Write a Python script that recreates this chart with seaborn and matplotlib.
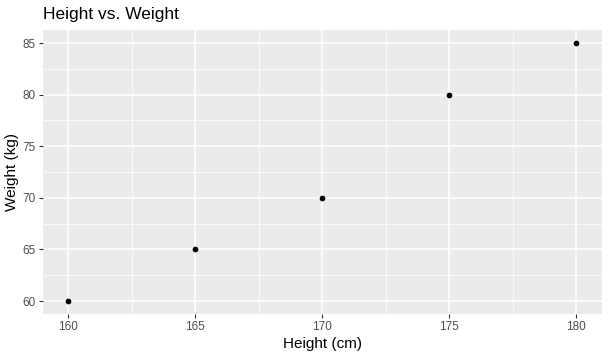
import matplotlib
matplotlib.use("Agg")
import matplotlib.pyplot as plt
import seaborn as sns
import pandas as pd
import numpy as np

# Data
height = [160, 165, 170, 175, 180]
weight = [60, 65, 70, 80, 85]
x_ticks = [160, 165, 170, 175, 180]
y_ticks = [60, 65, 70, 75, 80, 85]

df = pd.DataFrame({"Height (cm)": height, "Weight (kg)": weight})

sns.set_theme(style="darkgrid")
plt.rcParams['font.family'] = ['Liberation Sans', 'DejaVu Sans']

fig = plt.figure(figsize=(6.08, 3.58), dpi=100)
ax = fig.add_axes([0.0707, 0.1229, 0.919, 0.793])
ax.set_facecolor("#EBEBEB")

sns.scatterplot(data=df, x="Height (cm)", y="Weight (kg)", color="black",
                s=17, edgecolor="black", linewidth=0, ax=ax, zorder=3)

ax.set_xlim(159, 181)
ax.set_ylim(58.75, 86.25)
ax.set_xticks(x_ticks)
ax.set_yticks(y_ticks)
ax.set_xticks(np.arange(162.5, 180, 5), minor=True)
ax.set_yticks(np.arange(62.5, 85, 5), minor=True)
ax.grid(which="major", color="white", linewidth=1.1)
ax.grid(which="minor", color="white", linewidth=0.55)
for s in ax.spines.values():
    s.set_visible(False)

ax.tick_params(axis="both", which="major", labelsize=8.5, labelcolor="#4D4D4D",
               length=3, width=0.8, color="#333333", pad=2,
               bottom=True, left=True)
ax.tick_params(axis="both", which="minor", length=0)

ax.set_xlabel("Height (cm)", fontsize=11, color="black", labelpad=3)
ax.set_ylabel("Weight (kg)", fontsize=11, color="black", labelpad=3)

fig.text(0.0707, 0.96, "Height vs. Weight", fontsize=12.5, color="black",
         ha="left", va="center")

fig.savefig("out.png", dpi=100, facecolor="white")
